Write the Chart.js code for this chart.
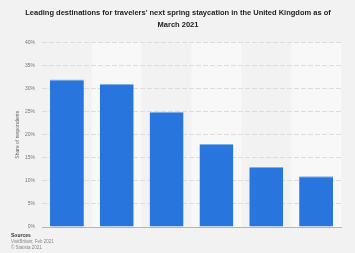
<!DOCTYPE html>
<html>
<head>
<meta charset="utf-8">
<script src="https://cdn.jsdelivr.net/npm/chart.js@4"></script>
<style>
  html, body { margin: 0; padding: 0; background: #f2f2f2; }
  #wrap { width: 355px; height: 253px; }
</style>
</head>
<body>
<div id="wrap"><canvas id="chart" width="355" height="253"></canvas></div>
<script>
const destinations = ['Coast or seaside', 'Countryside or village', 'City or large town', 'Mountains or hills', 'Small town', 'Other'];
const shares = [32, 31, 25, 18, 13, 11];
const yTicks = [0, 5, 10, 15, 20, 25, 30, 35, 40];
const titleLines = ["Leading destinations for travelers' next spring staycation in the United Kingdom as of", 'March 2021'];
const sourceLines = ['Sources', 'VisitBritain; Feb 2021', '\u00a9 Statista 2021'];

const bgPlugin = {
  id: 'bg',
  beforeDraw(chart) {
    const { ctx, chartArea, scales } = chart;
    ctx.save();
    ctx.fillStyle = '#f2f2f2';
    ctx.fillRect(0, 0, chart.width, chart.height);
    // lighter bands behind every second category
    const x = scales.x;
    const step = (chartArea.right - chartArea.left) / destinations.length;
    ctx.fillStyle = '#f8f8f8';
    destinations.forEach((d, i) => {
      if (i % 2 === 1) {
        const cx = x.getPixelForValue(i);
        ctx.fillRect(cx - step / 2, chartArea.top, step, chartArea.bottom - chartArea.top);
      }
    });
    ctx.restore();
  },
  afterDraw(chart) {
    const { ctx } = chart;
    ctx.save();
    ctx.fillStyle = '#222';
    ctx.textAlign = 'center';
    ctx.textBaseline = 'middle';
    ctx.font = 'bold 7.5px "Liberation Sans", Arial, sans-serif';
    ctx.fillText(titleLines[0], 178, 13);
    ctx.fillText(titleLines[1], 178, 24.5);

    ctx.textAlign = 'left';
    ctx.font = 'bold 5px "Liberation Sans", Arial, sans-serif';
    ctx.fillStyle = '#333';
    ctx.fillText(sourceLines[0], 11, 236);
    ctx.font = '4.5px "Liberation Sans", Arial, sans-serif';
    ctx.fillStyle = '#888';
    ctx.fillText(sourceLines[1], 11, 242);
    ctx.fillText(sourceLines[2], 11, 248);
    ctx.restore();
  }
};

new Chart(document.getElementById('chart'), {
  type: 'bar',
  data: {
    labels: destinations,
    datasets: [{
      data: shares,
      backgroundColor: '#2876dd',
      borderColor: '#80aee9',
      borderWidth: { top: 1, left: 0, right: 0, bottom: 0 },
      borderSkipped: 'start',
      categoryPercentage: 0.68,
      barPercentage: 1
    }]
  },
  options: {
    responsive: false,
    animation: false,
    layout: { padding: { top: 42.5, right: 14, bottom: 26, left: 15 } },
    plugins: {
      legend: { display: false },
      tooltip: { enabled: false }
    },
    scales: {
      x: {
        ticks: { display: false },
        grid: { display: false, drawTicks: false },
        border: { display: true, color: '#b5b5b5', width: 1 }
      },
      y: {
        min: 0,
        max: 40,
        afterBuildTicks(scale) {
          scale.ticks = yTicks.map(v => ({ value: v }));
        },
        afterFit(scale) { scale.width = 27; },
        ticks: {
          padding: 7,
          color: '#777',
          font: { family: '"Liberation Sans", Arial, sans-serif', size: 5 },
          callback: v => v + '%'
        },
        grid: { color: '#dcdcdc', drawTicks: false },
        border: { display: false, dash: [5, 2] },
        title: {
          display: true,
          text: 'Share of respondents',
          color: '#666',
          font: { family: '"Liberation Sans", Arial, sans-serif', size: 5 },
          padding: { top: 0, bottom: 0 }
        }
      }
    }
  },
  plugins: [bgPlugin]
});
</script>
</body>
</html>
